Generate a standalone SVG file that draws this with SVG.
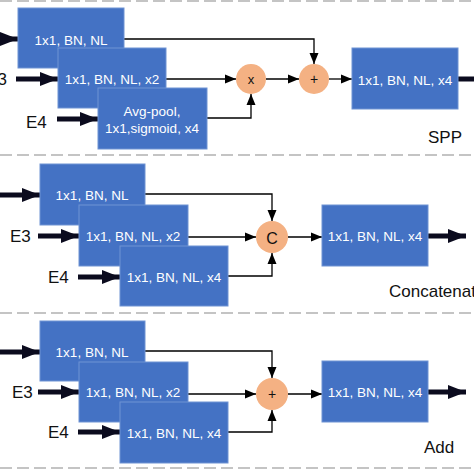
<svg xmlns="http://www.w3.org/2000/svg" width="474" height="474" viewBox="0 0 474 474">
<defs>
<style>
.box{fill:#4472C4;stroke:#6f93d3;stroke-width:1}
.bt{fill:#fff;font-family:"Liberation Sans",Arial,sans-serif;font-size:13.5px;text-anchor:middle;dominant-baseline:central}
.lbl{fill:#111;font-family:"Liberation Sans",Arial,sans-serif;font-size:17px}
.op{fill:#F4B183}
.ot{fill:#111;font-family:"Liberation Sans",Arial,sans-serif;text-anchor:middle;dominant-baseline:central}
.thin{fill:none;stroke:#000;stroke-width:1.3;marker-end:url(#ah)}
.thick{fill:none;stroke:#0b0b1e;stroke-width:5;marker-end:url(#th)}
.dash{stroke:#c4c4c4;stroke-width:2;stroke-dasharray:12 5}
</style>
<marker id="ah" markerUnits="userSpaceOnUse" markerWidth="11" markerHeight="10" refX="11" refY="5" orient="auto">
<path d="M0,0.5 L11,5 L0,9.5 z" fill="#000"/>
</marker>
<marker id="th" markerUnits="userSpaceOnUse" markerWidth="18" markerHeight="14" refX="18" refY="7" orient="auto">
<path d="M0,0 L18,7 L0,14 z" fill="#0b0b1e"/>
</marker>
</defs>
<g id="separators">
<line class="dash" x1="0" y1="1" x2="474" y2="1"/>
<line class="dash" x1="0" y1="155" x2="474" y2="155"/>
<line class="dash" x1="0" y1="313" x2="474" y2="313"/>
<line class="dash" x1="0" y1="468" x2="474" y2="468"/>
</g>
<g id="connectors">
<path class="thick" d="M0,39 H18"/>
<path class="thick" d="M16,79 H58"/>
<path class="thick" d="M57,119 H98"/>
<path d="M458,79 H474" stroke="#0b0b1e" stroke-width="5"/>
<path class="thin" d="M124,39 H314 V64"/>
<path class="thin" d="M166,79 H236"/>
<path class="thin" d="M207,118 H251 V94"/>
<path class="thin" d="M266,79 H299"/>
<path class="thin" d="M329,79 H352"/>
<path class="thick" d="M0,195 H40"/>
<path class="thick" d="M38,236 H79"/>
<path class="thick" d="M78,277 H120"/>
<path class="thick" d="M428,236 H466"/>
<path class="thin" d="M145,194 H272 V221"/>
<path class="thin" d="M188,237 H256"/>
<path class="thin" d="M228,276 H272 V253"/>
<path class="thin" d="M288,237 H322"/>
<path class="thick" d="M0,352 H40"/>
<path class="thick" d="M38,392 H79"/>
<path class="thick" d="M78,432 H120"/>
<path class="thick" d="M428,392 H466"/>
<path class="thin" d="M145,351 H272 V378"/>
<path class="thin" d="M188,394 H256"/>
<path class="thin" d="M228,432 H272 V410"/>
<path class="thin" d="M288,394 H322"/>
</g>
<g id="spp-a"><rect class="box" x="18" y="8" width="106" height="60"/><text class="bt" x="71" y="40">1x1, BN, NL</text></g>
<g id="spp-b"><rect class="box" x="58" y="48" width="108" height="60"/><text class="bt" x="112" y="79">1x1, BN, NL, x2</text></g>
<g id="spp-c"><rect class="box" x="98" y="88" width="109" height="61"/><text class="bt" x="152" y="111">Avg-pool,</text><text class="bt" x="152" y="128">1x1,sigmoid, x4</text></g>
<g id="spp-mul"><circle class="op" cx="251" cy="79" r="15"/><text class="ot" x="251" y="79" font-size="13">x</text></g>
<g id="spp-add"><circle class="op" cx="314" cy="79" r="15"/><text class="ot" x="314" y="79" font-size="14">+</text></g>
<g id="spp-d"><rect class="box" x="352" y="48" width="106" height="61"/><text class="bt" x="405" y="80">1x1, BN, NL, x4</text></g>
<g id="spp-labels"><text class="lbl" x="7" y="85" text-anchor="end">E3</text><text class="lbl" x="26" y="128">E4</text><text class="lbl" x="428" y="143" font-size="16">SPP</text></g>

<g id="cat-a"><rect class="box" x="40" y="164" width="105" height="61"/><text class="bt" x="92" y="195">1x1, BN, NL</text></g>
<g id="cat-b"><rect class="box" x="79" y="205" width="109" height="61"/><text class="bt" x="133" y="236">1x1, BN, NL, x2</text></g>
<g id="cat-c"><rect class="box" x="120" y="246" width="108" height="60"/><text class="bt" x="174" y="277">1x1, BN, NL, x4</text></g>
<g id="cat-op"><circle class="op" cx="272" cy="237" r="16"/><text class="ot" x="272" y="238" font-size="16">C</text></g>
<g id="cat-d"><rect class="box" x="322" y="205" width="106" height="61"/><text class="bt" x="375" y="236">1x1, BN, NL, x4</text></g>
<g id="cat-labels"><text class="lbl" x="10" y="242">E3</text><text class="lbl" x="48" y="283">E4</text><text class="lbl" x="389" y="297">Concatenate</text></g>

<g id="add-a"><rect class="box" x="40" y="321" width="105" height="60"/><text class="bt" x="92" y="352">1x1, BN, NL</text></g>
<g id="add-b"><rect class="box" x="79" y="362" width="109" height="60"/><text class="bt" x="133" y="392">1x1, BN, NL, x2</text></g>
<g id="add-c"><rect class="box" x="120" y="402" width="108" height="61"/><text class="bt" x="174" y="433">1x1, BN, NL, x4</text></g>
<g id="add-op"><circle class="op" cx="272" cy="394" r="16"/><text class="ot" x="272" y="394" font-size="14">+</text></g>
<g id="add-d"><rect class="box" x="322" y="361" width="106" height="61"/><text class="bt" x="375" y="392">1x1, BN, NL, x4</text></g>
<g id="add-labels"><text class="lbl" x="12" y="398">E3</text><text class="lbl" x="48" y="438">E4</text><text class="lbl" x="424" y="453">Add</text></g>
</svg>
